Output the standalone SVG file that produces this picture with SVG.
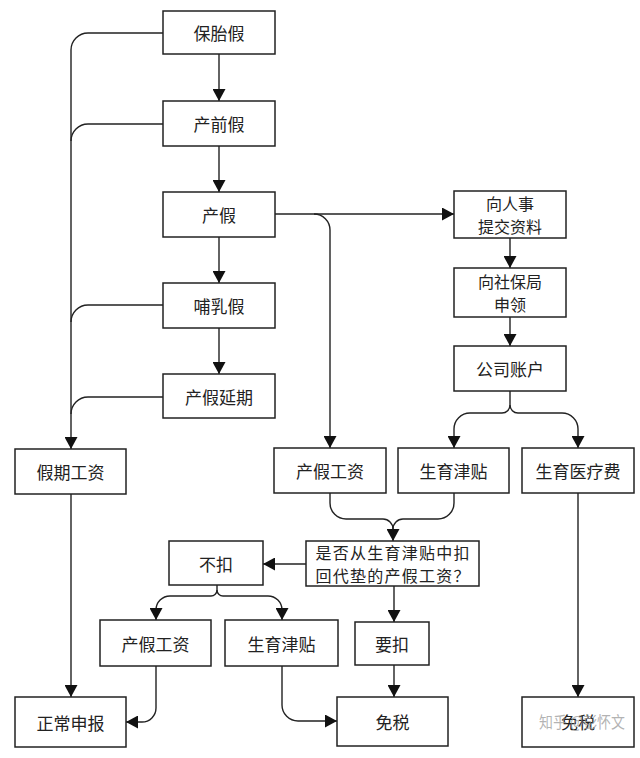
<svg xmlns="http://www.w3.org/2000/svg" width="640" height="758" viewBox="0 0 640 758">
<style>
  .box { fill: #fff; stroke: #222; stroke-width: 1.5; }
  .lbl { font-family: "Noto Sans CJK SC", "Liberation Serif", serif; font-size: 17px; fill: #222; text-anchor: middle; dominant-baseline: central; }
  .two { font-size: 16px; }
  .con { fill: none; stroke: #222; stroke-width: 1.4; }
  .wm { font-family: "Noto Sans CJK SC", sans-serif; font-size: 16px; fill: #9a9a9a; fill-opacity: 0.75; }
</style>
<defs>
  <marker id="ah" markerUnits="userSpaceOnUse" markerWidth="12" markerHeight="13" refX="12" refY="6.5" orient="auto">
    <path d="M0,0 L12,6.5 L0,13 z" fill="#111"/>
  </marker>
</defs>
<rect width="640" height="758" fill="#fff"/>

<g id="connectors">
  <path class="con" d="M219,54 V101" marker-end="url(#ah)"/>
  <path class="con" d="M219,146 V192" marker-end="url(#ah)"/>
  <path class="con" d="M219,237 V283" marker-end="url(#ah)"/>
  <path class="con" d="M219,328 V374" marker-end="url(#ah)"/>
  <path class="con" d="M163,33 H88 A17,17 0 0 0 71,50 V449" marker-end="url(#ah)"/>
  <path class="con" d="M163,124 H88 A17,17 0 0 0 71,141"/>
  <path class="con" d="M163,305 H88 A17,17 0 0 0 71,322"/>
  <path class="con" d="M163,397 H88 A17,17 0 0 0 71,414"/>
  <path class="con" d="M275,214 H454" marker-end="url(#ah)"/>
  <path class="con" d="M314,214 A16,16 0 0 1 330,230 V448" marker-end="url(#ah)"/>
  <path class="con" d="M510,238 V268" marker-end="url(#ah)"/>
  <path class="con" d="M510,317 V346" marker-end="url(#ah)"/>
  <path class="con" d="M510,391 V405 A8,8 0 0 1 502,413 H470 A16,16 0 0 0 454,429 V448" marker-end="url(#ah)"/>
  <path class="con" d="M510,405 A8,8 0 0 0 518,413 H562 A16,16 0 0 1 578,429 V448" marker-end="url(#ah)"/>
  <path class="con" d="M330,493 V503 A16,16 0 0 0 346,519 H383 A10,10 0 0 1 393,529 V541" marker-end="url(#ah)"/>
  <path class="con" d="M454,493 V503 A16,16 0 0 1 438,519 H403 A10,10 0 0 0 393,529"/>
  <path class="con" d="M306,564 H263" marker-end="url(#ah)"/>
  <path class="con" d="M394,586 V622" marker-end="url(#ah)"/>
  <path class="con" d="M394,665 V697" marker-end="url(#ah)"/>
  <path class="con" d="M217,585 V590 A6,6 0 0 1 211,596 H170 A14,14 0 0 0 156,610 V620" marker-end="url(#ah)"/>
  <path class="con" d="M217,590 A6,6 0 0 0 223,596 H268 A14,14 0 0 1 282,610 V620" marker-end="url(#ah)"/>
  <path class="con" d="M156,666 V708 A14,14 0 0 1 142,722 H126" marker-end="url(#ah)"/>
  <path class="con" d="M282,666 V705 A16,16 0 0 0 298,721 H337" marker-end="url(#ah)"/>
  <path class="con" d="M71,494 V697" marker-end="url(#ah)"/>
  <path class="con" d="M578,493 V697" marker-end="url(#ah)"/>
</g>

<g id="n-baotaijia"><rect class="box" x="163" y="11" width="112" height="43"/><text class="lbl" x="219" y="32.5">保胎假</text></g>
<g id="n-chanqianjia"><rect class="box" x="163" y="101" width="112" height="45"/><text class="lbl" x="219" y="123.5">产前假</text></g>
<g id="n-chanjia"><rect class="box" x="163" y="192" width="112" height="45"/><text class="lbl" x="219" y="214.5">产假</text></g>
<g id="n-buru"><rect class="box" x="163" y="283" width="112" height="45"/><text class="lbl" x="219" y="305.5">哺乳假</text></g>
<g id="n-yanqi"><rect class="box" x="163" y="374" width="112" height="44"/><text class="lbl" x="219" y="396">产假延期</text></g>
<g id="n-jiaqigongzi"><rect class="box" x="15" y="449" width="111" height="45"/><text class="lbl" x="70.5" y="471.5">假期工资</text></g>
<g id="n-renshi"><rect class="box" x="454" y="191" width="112" height="47"/><text class="lbl two" x="510" y="203">向人事</text><text class="lbl two" x="510" y="226">提交资料</text></g>
<g id="n-shebao"><rect class="box" x="454" y="268" width="112" height="49"/><text class="lbl two" x="510" y="281">向社保局</text><text class="lbl two" x="510" y="304">申领</text></g>
<g id="n-zhanghu"><rect class="box" x="454" y="346" width="112" height="45"/><text class="lbl" x="510" y="368.5">公司账户</text></g>
<g id="n-chanjiagongzi"><rect class="box" x="274" y="448" width="112" height="45"/><text class="lbl" x="330" y="470.5">产假工资</text></g>
<g id="n-jintie"><rect class="box" x="398" y="448" width="111" height="45"/><text class="lbl" x="453.5" y="470.5">生育津贴</text></g>
<g id="n-yiliao"><rect class="box" x="522" y="448" width="112" height="45"/><text class="lbl" x="578" y="470.5">生育医疗费</text></g>
<g id="n-shifou"><rect class="box" x="306" y="541" width="173" height="45"/><text class="lbl two" x="392.5" y="552" textLength="154">是否从生育津贴中扣</text><text class="lbl two" x="392.5" y="575" textLength="154">回代垫的产假工资？</text></g>
<g id="n-bukou"><rect class="box" x="169" y="541" width="94" height="44"/><text class="lbl" x="216" y="563">不扣</text></g>
<g id="n-yaokou"><rect class="box" x="355" y="622" width="74" height="43"/><text class="lbl" x="392" y="643.5">要扣</text></g>
<g id="n-chanjiagongzi2"><rect class="box" x="100" y="620" width="111" height="46"/><text class="lbl" x="155.5" y="643">产假工资</text></g>
<g id="n-jintie2"><rect class="box" x="225" y="620" width="113" height="46"/><text class="lbl" x="281.5" y="643">生育津贴</text></g>
<g id="n-zhengchang"><rect class="box" x="15" y="697" width="111" height="50"/><text class="lbl" x="70.5" y="722">正常申报</text></g>
<g id="n-mianshui1"><rect class="box" x="337" y="697" width="111" height="49"/><text class="lbl" x="392.5" y="721.5">免税</text></g>
<g id="n-mianshui2"><rect class="box" x="522" y="697" width="112" height="50"/><text class="lbl" x="578" y="721">免税</text></g>

<text class="wm" x="539" y="728" textLength="86" lengthAdjust="spacingAndGlyphs">知乎 @彭怀文</text>
</svg>
